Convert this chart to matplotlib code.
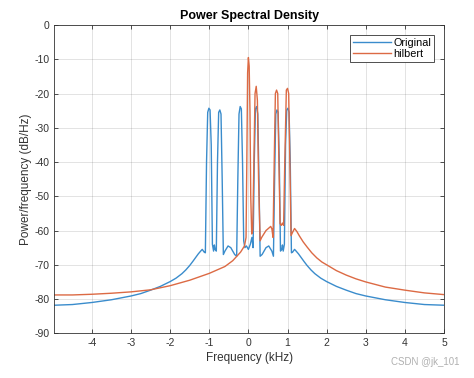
import matplotlib
matplotlib.use("Agg")
import matplotlib.pyplot as plt

plt.rcParams['font.family'] = ['Liberation Sans', 'DejaVu Sans']
plt.rcParams['axes.unicode_minus'] = False

# Original (blue) PSD: frequency (kHz), dB/Hz
orig_f = [-4.96, -4.5, -4.0, -3.5, -3.0, -2.75, -2.5, -2.25, -2.0, -1.85, -1.7, -1.6, -1.5, -1.42, -1.35,
          -1.28, -1.22, -1.18, -1.13, -1.10,
          -1.07, -1.04, -1.01, -0.98, -0.95, -0.92, -0.89, -0.87, -0.85, -0.82, -0.79, -0.76, -0.73,
          -0.70, -0.67, -0.64, -0.60, -0.52, -0.45, -0.35, -0.30, -0.27, -0.24, -0.21, -0.18, -0.15,
          -0.12, -0.09, -0.05, 0.0, 0.05, 0.09, 0.12, 0.15, 0.18, 0.21, 0.24, 0.27, 0.30, 0.35, 0.45,
          0.52, 0.60, 0.64, 0.67, 0.70, 0.73, 0.76, 0.79, 0.82, 0.85, 0.87, 0.89, 0.92, 0.95, 0.98,
          1.01, 1.04, 1.07, 1.10, 1.13, 1.18, 1.22, 1.28, 1.35, 1.42, 1.5, 1.6, 1.7, 1.85, 2.0, 2.25,
          2.5, 2.75, 3.0, 3.5, 4.0, 4.5, 5.0]
orig_db = [-81.8, -81.6, -81.0, -80.2, -79.1, -78.4, -77.4, -76.3, -74.9, -73.9, -72.6, -71.5, -70.2, -69.0, -67.9,
           -66.8, -66.0, -65.5, -66.3, -66.5,
           -40, -25.5, -24.3, -24.8, -35, -64, -66, -64.2, -65.5, -66, -40, -25.5, -24.8,
           -26, -45, -67, -66, -64.5, -65, -67, -67.5, -45, -26, -23.8, -24.5, -40,
           -63, -65, -64.5, -65.5, -64, -62, -65, -40, -24.5, -23.8, -26, -45, -67.5, -67, -65,
           -64.5, -66, -67.5, -45, -26, -24.8, -25.5, -40, -66, -65.5, -64.2, -66, -64, -35, -24.8,
           -24.3, -25.5, -40, -66.5, -66.3, -65.5, -66.0, -66.8, -67.9, -69.0, -70.2, -71.5, -72.6, -73.9, -74.9, -76.3,
           -77.4, -78.4, -79.1, -80.2, -81.0, -81.6, -81.8]

# Hilbert (orange) PSD
hil_f = [-4.96, -4.5, -4.0, -3.5, -3.0, -2.5, -2.0, -1.5, -1.0, -0.6, -0.4, -0.2, -0.1, -0.06, -0.04,
         -0.02, 0.0, 0.02, 0.04, 0.06, 0.085, 0.11, 0.14, 0.17, 0.2, 0.23, 0.26, 0.30, 0.34, 0.45,
         0.57, 0.60, 0.63, 0.66, 0.69, 0.72, 0.75, 0.78, 0.81, 0.84, 0.87, 0.90, 0.93, 0.97, 1.0,
         1.03, 1.06, 1.09, 1.13, 1.18, 1.24, 1.3, 1.4, 1.5, 1.62, 1.75, 1.88, 2.0, 2.25, 2.5, 2.75,
         3.0, 3.5, 4.0, 4.5, 5.0]
hil_db = [-78.8, -78.8, -78.6, -78.3, -77.9, -77.3, -76.1, -74.5, -72.5, -70.5, -68.8, -66.3, -64.5, -62, -40,
          -14, -9.5, -12, -25, -50, -61, -60, -40, -20, -17.9, -22, -45, -63, -62, -60,
          -58.8, -59.5, -62, -40, -20, -19, -20, -40, -58, -58.5, -57.8, -58.5, -40, -19, -18.5,
          -20, -40, -61.5, -60.5, -59.4, -60.3, -61.5, -63.3, -64.8, -66.5, -68, -69.2, -70, -71.7, -73, -74.1,
          -75, -76.5, -77.4, -78.2, -78.7]

xticks = [-4, -3, -2, -1, 0, 1, 2, 3, 4, 5]
yticks = [0, -10, -20, -30, -40, -50, -60, -70, -80, -90]

fig = plt.figure(figsize=(4.74, 3.78), dpi=100)
ax = fig.add_axes([0.1146, 0.1182, 0.8221, 0.8157])

ax.plot(orig_f, orig_db, color='#3a8ccc', lw=1.0, label='Original')
ax.plot(hil_f, hil_db, color='#dc6a44', lw=1.0, label='hilbert')

ax.set_xlim(-4.961, 5)
ax.set_ylim(-90, 0)
ax.set_xticks(xticks)
ax.set_yticks(yticks)
ax.set_xticklabels([str(t) for t in xticks])
ax.set_yticklabels([str(t) for t in yticks])
ax.grid(True, color='#262626', alpha=0.15, lw=0.6)
ax.tick_params(direction='in', length=3, labelsize=7.5, colors='#333333',
               top=True, right=True, width=0.6)
for s in ax.spines.values():
    s.set_color('#333333')
    s.set_linewidth(0.6)

ax.set_title('Power Spectral Density', fontsize=9, fontweight='bold', pad=4)
ax.set_xlabel('Frequency (kHz)', fontsize=8.5, color='#333333', labelpad=3)
ax.set_ylabel('Power/frequency (dB/Hz)', fontsize=8.5, color='#333333', labelpad=2)

leg = ax.legend(loc='upper right', fontsize=7.8, fancybox=False, framealpha=1,
                edgecolor='#333333', handlelength=3.5, handletextpad=0.2,
                borderpad=0.3, labelspacing=0.1, borderaxespad=0.9)
leg.get_frame().set_linewidth(0.6)

fig.text(0.97, 0.03, 'CSDN @jk_101', fontsize=7, color='#b0b0b0', ha='right', va='bottom')

fig.savefig('out.png', dpi=100)
